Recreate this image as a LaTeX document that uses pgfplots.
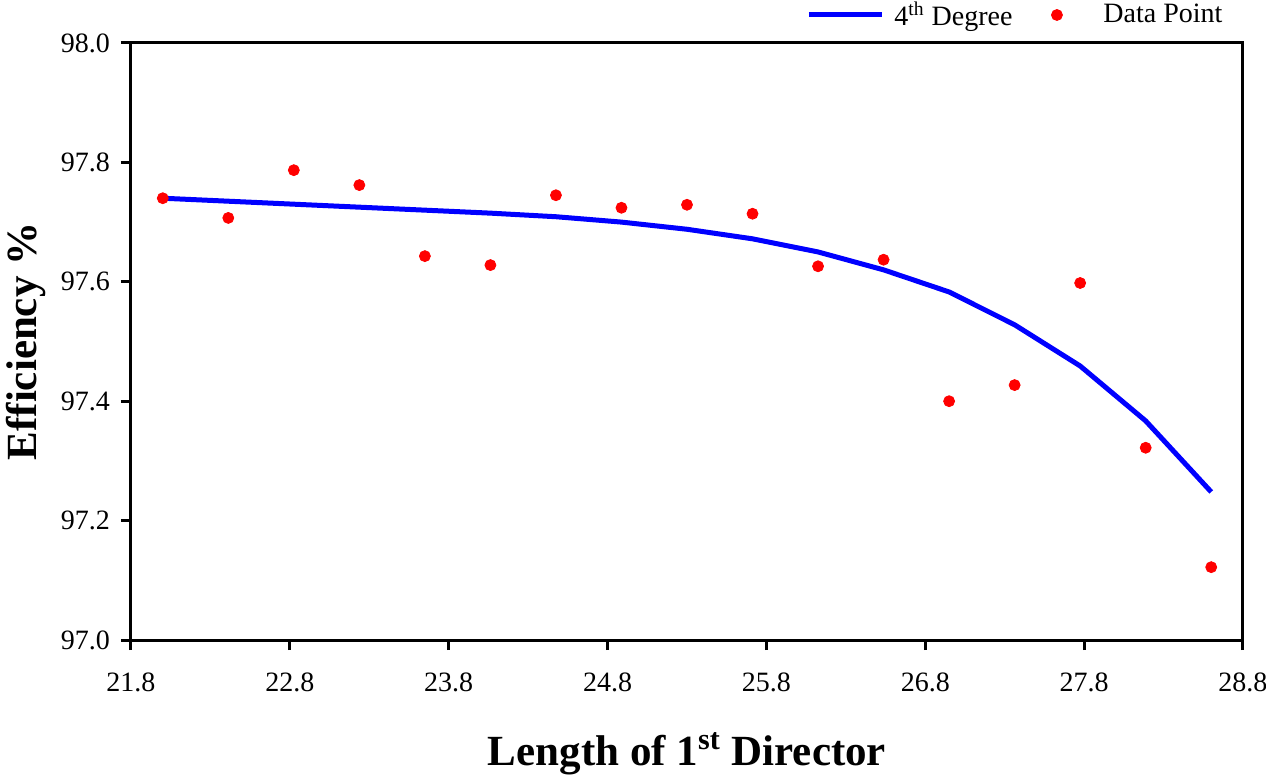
\documentclass[border=0pt]{standalone}
\usepackage{fontspec}
\setmainfont{Liberation Serif}
\usepackage{pgfplots}
\pgfplotsset{compat=1.18}
\definecolor{fitblue}{RGB}{0,0,255}
\definecolor{ptred}{RGB}{255,0,0}
\pgfplotsset{
  lineleg/.style={legend image code/.code={\draw[##1] (0pt,0pt) -- (36.5pt,0pt);}},
  markleg/.style={legend image code/.code={\path[draw=none,fill=none] (0pt,0pt) -- (36.5pt,0pt);\draw[##1] plot coordinates {(18.25pt,0pt)};}},
}
\begin{document}
\begin{tikzpicture}
\begin{axis}[
  at={(0,0)}, anchor=south west,
  scale only axis,
  width=556pt, height=298.5pt,
  xmin=21.8, xmax=28.8, ymin=97.0, ymax=98.0,
  xtick={21.8,22.8,23.8,24.8,25.8,26.8,27.8,28.8},
  ytick={97.0,97.2,97.4,97.6,97.8,98.0},
  axis line style={line width=1.5pt},
  every tick/.style={black, line width=1.5pt},
  major tick length=5pt,
  tick align=outside,
  xtick pos=bottom, ytick pos=left,
  /pgf/number format/assume math mode=true,
  /pgf/number format/fixed,
  /pgf/number format/fixed zerofill,
  /pgf/number format/precision=1,
  tick label style={font=\fontsize{14}{16}\selectfont},
  xticklabel shift=8pt,
  yticklabel shift=2pt,
  xlabel={Length of 1\textsuperscript{st} Director},
  ylabel={Efficiency \%},
  label style={font=\fontsize{21.5}{24}\selectfont\bfseries},
  xlabel style={at={([yshift=-62.5pt]axis description cs:0.5,0)}, anchor=base},
  ylabel style={at={([xshift=-47pt]axis description cs:0,0.5)}, anchor=base},
  legend columns=2,
  legend style={draw=none, fill=none, inner sep=0pt, anchor=west,
    at={(rel axis cs:0.6070,1.0469)},
    font=\fontsize{14}{16}\selectfont,
    /tikz/every odd column/.append style={column sep=3pt},
    /tikz/every even column/.append style={column sep=2pt}},
  clip=false,
]
\addplot[color=fitblue, line width=2.5pt, lineleg]
  coordinates {
  (22.0000,97.740) (22.4125,97.735) (22.8250,97.730) (23.2375,97.725)
  (23.6500,97.720) (24.0625,97.715) (24.4750,97.709) (24.8875,97.700)
  (25.3000,97.688) (25.7125,97.672) (26.1250,97.650) (26.5375,97.620)
  (26.9500,97.583) (27.3625,97.528) (27.7750,97.459) (28.1875,97.367)
  (28.6000,97.248)
};
\addlegendentry{4\textsuperscript{th} Degree}
\addplot[only marks, mark=*, mark size=2.75pt, color=ptred,
  mark options={draw=ptred, fill=ptred}, markleg]
  coordinates {
  (22.0000,97.740) (22.4125,97.707) (22.8250,97.787) (23.2375,97.762)
  (23.6500,97.643) (24.0625,97.628) (24.4750,97.745) (24.8875,97.724)
  (25.3000,97.729) (25.7125,97.714) (26.1250,97.626) (26.5375,97.637)
  (26.9500,97.400) (27.3625,97.427) (27.7750,97.598) (28.1875,97.322)
  (28.6000,97.122)
};
\addlegendentry{Data Point}
\end{axis}
\pgfresetboundingbox
\path[use as bounding box] (-65.5pt,-69pt) rectangle (567.5pt,320pt);
\end{tikzpicture}
\end{document}
